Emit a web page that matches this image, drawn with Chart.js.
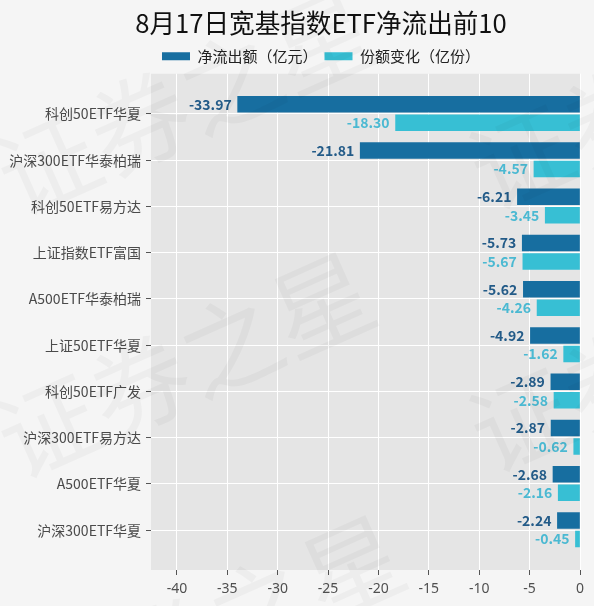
<!DOCTYPE html>
<html>
<head>
<meta charset="utf-8">
<script src="https://cdn.jsdelivr.net/npm/chart.js@4.4.1/dist/chart.umd.min.js"></script>
<style>
  html, body { margin: 0; padding: 0; background: #f5f5f5; }
  #wrap { width: 594px; height: 606px; }
</style>
</head>
<body>
<div id="wrap"><canvas id="grafico" width="594" height="606"></canvas></div>
<script>
// dados
const categorias = ["科创50ETF华夏", "沪深300ETF华泰柏瑞", "科创50ETF易方达", "上证指数ETF富国", "A500ETF华泰柏瑞",
    "上证50ETF华夏", "科创50ETF广发", "沪深300ETF易方达", "A500ETF华夏", "沪深300ETF华夏"]
const fluxoLiquido = [-33.97, -21.81, -6.21, -5.73, -5.62, -4.92, -2.89, -2.87, -2.68, -2.24]
const variacaoCotas = [-18.30, -4.57, -3.45, -5.67, -4.26, -1.62, -2.58, -0.62, -2.16, -0.45]
const ticksX = [-40, -35, -30, -25, -20, -15, -10, -5, 0]

const corEscura = "#176ea0"
const corClara = "#37bfd4"
const padEsq = 62

// barras deslocadas dentro de cada categoria
const pontosEscuros = fluxoLiquido.map((v, i) => ({ x: v, y: i - 0.21 }))
const pontosClaros = variacaoCotas.map((v, i) => ({ x: v, y: i + 0.19 }))

const fundo = {
    id: "fundo",
    beforeDraw(chart) {
        const { ctx, chartArea } = chart
        ctx.save()
        ctx.fillStyle = "#f5f5f5"
        ctx.fillRect(0, 0, chart.width, chart.height)
        ctx.fillStyle = "#e5e5e5"
        ctx.fillRect(chartArea.left, chartArea.top, chartArea.right - chartArea.left, chartArea.bottom - chartArea.top)
        ctx.restore()
    }
}

const rotulos = {
    id: "rotulos",
    afterDatasetsDraw(chart) {
        const ctx = chart.ctx
        ctx.save()
        ctx.font = "bold 14px 'Noto Sans CJK SC', 'Noto Sans', sans-serif"
        ctx.textAlign = "right"
        ctx.textBaseline = "middle"
        const cores = ["#235b88", "#4bb9d2"]
        chart.data.datasets.forEach((ds, d) => {
            const meta = chart.getDatasetMeta(d)
            meta.data.forEach((barra, i) => {
                ctx.fillStyle = cores[d]
                ctx.fillText(ds.data[i].x.toFixed(2), barra.x - 6, barra.y)
            })
        })
        ctx.restore()
    }
}

const marcaDagua = {
    id: "marcaDagua",
    afterDraw(chart) {
        const ctx = chart.ctx
        ctx.save()
        ctx.fillStyle = "rgba(0,0,0,0.03)"
        ctx.font = "100px 'Noto Sans CJK SC'"
        ctx.textAlign = "center"
        ctx.textBaseline = "middle"
        const posicoes = [[185, 365], [658, 359], [185, 102], [658, 96], [215, 628], [688, 622]]
        posicoes.forEach(([x, y]) => {
            ctx.save()
            ctx.translate(x, y)
            ctx.rotate(-0.42)
            ctx.fillText("证券之星", 0, 0)
            ctx.restore()
        })
        ctx.restore()
    }
}

const grafico = document.getElementById("grafico")

new Chart(grafico, {
    type: "bar",
    data: {
        datasets: [{
            label: "净流出额（亿元）",
            data: pontosEscuros,
            backgroundColor: corEscura,
            grouped: false,
            barThickness: 16
        }, {
            label: "份额变化（亿份）",
            data: pontosClaros,
            backgroundColor: corClara,
            grouped: false,
            barThickness: 16
        }]
    },
    options: {
        indexAxis: "y",
        responsive: false,
        animation: false,
        devicePixelRatio: 1,
        layout: { padding: { left: padEsq, right: 14, top: 0, bottom: 0 } },
        plugins: {
            title: {
                display: true,
                text: "8月17日宽基指数ETF净流出前10",
                color: "#111111",
                font: { size: 25.6, weight: "normal", family: "'Noto Sans CJK SC', sans-serif" },
                padding: { top: 8, bottom: 3 }
            },
            legend: {
                position: "top",
                labels: {
                    boxWidth: 28,
                    boxHeight: 8,
                    padding: 7,
                    color: "#222222",
                    font: { size: 15, family: "'Noto Sans CJK SC', sans-serif" }
                }
            },
            tooltip: { enabled: false }
        },
        scales: {
            x: {
                type: "linear",
                min: -42.57,
                max: 0,
                afterBuildTicks(scale) { scale.ticks = ticksX.map(v => ({ value: v })) },
                afterFit(scale) { scale.height = 36 },
                grid: { color: "#ffffff", lineWidth: 1, tickColor: "#555555", tickLength: 5 },
                border: { display: false },
                ticks: {
                    color: "#505050",
                    padding: 6,
                    font: { size: 14, family: "'Noto Sans', sans-serif" }
                }
            },
            y: {
                type: "linear",
                reverse: true,
                offset: false,
                min: -0.87,
                max: 9.86,
                afterBuildTicks(scale) { scale.ticks = categorias.map((c, i) => ({ value: i })) },
                afterFit(scale) {
                    scale.width = 151 - padEsq
                    scale._computeLabelArea = () => undefined // não cortar os rótulos longos
                },
                grid: { color: "#ffffff", lineWidth: 1, offset: false, tickColor: "#555555", tickLength: 5 },
                border: { display: false },
                ticks: {
                    color: "#4a4a4a",
                    padding: 5,
                    font: { size: 14, family: "'Noto Sans CJK SC', sans-serif" },
                    callback: (v) => categorias[v]
                }
            }
        }
    },
    plugins: [fundo, rotulos, marcaDagua]
});
</script>
</body>
</html>
